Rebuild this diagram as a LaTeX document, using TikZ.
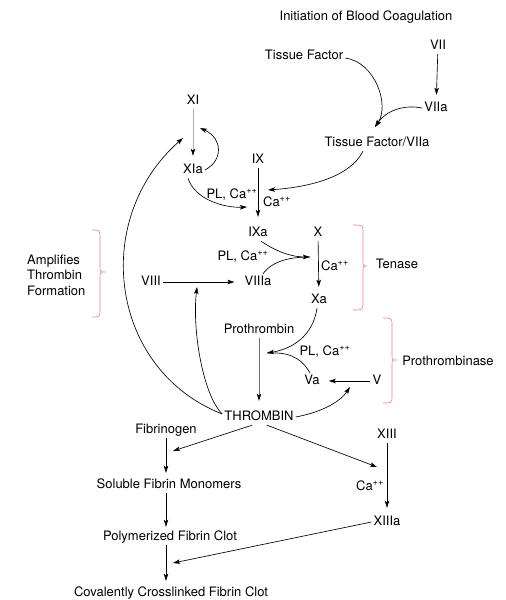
\documentclass[tikz,border=0pt]{standalone}
\usepackage{fontspec}
\setmainfont{TeX Gyre Heros}
\usetikzlibrary{arrows.meta,calc}
\definecolor{bracepink}{RGB}{240,115,150}
\definecolor{lightline}{RGB}{175,175,175}
\definecolor{midline}{RGB}{110,110,110}
\newcommand\pinkbrace[6]{\draw[bracepink,line width=0.6pt] (#1,#4) .. controls (#2,#4) .. (#2,#4+8) -- (#2,#5-6) .. controls (#2,#5) .. (#3,#5) .. controls (#2,#5) .. (#2,#5+6) -- (#2,#6-8) .. controls (#2,#6) .. (#1,#6);}
\begin{document}
\begin{tikzpicture}[x=1pt,y=-1pt,
  lbl/.style={inner sep=2pt,font=\fontsize{13}{15}\selectfont,text height=9.3pt,text depth=2.7pt},
  mlbl/.style={inner sep=0pt,font=\fontsize{13}{15.5}\selectfont,align=left},
  arr/.style={line width=0.65pt,-{Stealth[length=7pt,width=4.5pt,inset=1.5pt]}},
  con/.style={line width=0.65pt}]
\useasboundingbox (0,0) rectangle (506,600);
% nodes
\node[lbl] (title) at (366,17) {Initiation of Blood Coagulation};
\node[lbl] (VII) at (438,46) {VII};
\node[lbl] (TF) at (304,56) {Tissue Factor};
\node[lbl] (VIIa) at (436,108) {VIIa};
\node[lbl] (TFVIIa) at (377,143) {Tissue Factor/VIIa};
\node[lbl] (XI) at (193,101) {XI};
\node[lbl] (XIa) at (193,170) {XIa};
\node[lbl] (IX) at (258,160) {IX};
\node[lbl] (plca1) at (232,195) {PL, Ca\textsuperscript{++}};
\node[lbl] (ca1) at (277,203) {Ca\textsuperscript{++}};
\node[lbl] (IXa) at (258,233) {IXa};
\node[lbl] (X) at (318,233) {X};
\node[lbl] (plca2) at (243,257) {PL, Ca\textsuperscript{++}};
\node[lbl] (ca2) at (335,267) {Ca\textsuperscript{++}};
\node[lbl] (VIII) at (151,282) {VIII};
\node[lbl] (VIIIa) at (258,282) {VIIIa};
\node[lbl] (Xa) at (319,300) {Xa};
\node[mlbl,anchor=west] (amp) at (27,275) {Amplifies\\Thrombin\\Formation};
\node[lbl] (tenase) at (397,265) {Tenase};
\node[lbl] (proth) at (259,330) {Prothrombin};
\node[lbl] (plca3) at (325,352) {PL, Ca\textsuperscript{++}};
\node[lbl] (Va) at (312,381) {Va};
\node[lbl] (V) at (377,381) {V};
\node[lbl] (ptase) at (448,362) {Prothrombinase};
\node[lbl] (thr) at (259,417) {THROMBIN};
\node[lbl] (fibg) at (166,430) {Fibrinogen};
\node[lbl] (XIII) at (387,435) {XIII};
\node[lbl] (sfm) at (169,485) {Soluble Fibrin Monomers};
\node[lbl] (ca4) at (370,487) {Ca\textsuperscript{++}};
\node[lbl] (XIIIa) at (387,522) {XIIIa};
\node[lbl] (pfc) at (170,537) {Polymerized Fibrin Clot};
\node[lbl] (ccfc) at (171,593) {Covalently Crosslinked Fibrin Clot};
% braces
\pinkbrace{92}{100}{106}{230}{272}{317}
\pinkbrace{353}{363}{367}{225}{266}{310}
\pinkbrace{383}{392}{397}{318}{360}{403}
% free-end coordinates
\coordinate (tfin) at (375,127);
\coordinate (ixin) at (268,190);
\coordinate (xiain) at (247,207);
\coordinate (xiback) at (200,128);
\coordinate (xibig) at (183,138);
\coordinate (viiiup) at (197,287);
\coordinate (xin) at (310,257);
\coordinate (prin) at (267,353);
\coordinate (vaup) at (350,387);
\coordinate (fibin) at (173,451);
\coordinate (xiiiin) at (377,467);
\coordinate (ccin) at (173,563);
% connectors
\draw[arr,shorten >=5pt] (VII) -- (VIIa);
\draw[arr] ([yshift=-2pt]TF.east) .. controls (375,62) and (390,105) .. (tfin);
\draw[arr] (VIIa.west) .. controls (402,104) and (385,112) .. (tfin);
\draw[arr] ([xshift=-14pt]TFVIIa.south) .. controls (350,177) and (310,187) .. (ixin);
\draw[con,lightline,-{Stealth[length=7pt,width=4.5pt,inset=1.5pt,color=black]},shorten >=6pt] (XI) -- (XIa);
\draw[arr] (XIa.east) .. controls (224,160) and (222,138) .. (xiback);
\draw[arr] ([xshift=-5pt]XIa.south) .. controls (195,200) and (225,208) .. (xiain);
\draw[arr,shorten >=8pt] (IX) -- (IXa);
\draw[arr] ([yshift=3pt]thr.west) .. controls (110,370) and (90,220) .. (xibig);
\draw[arr] ([yshift=3pt]thr.west) .. controls (203,395) and (192,330) .. (viiiup);
\draw[arr] ([xshift=3pt]IXa.south) .. controls (277,252) and (292,257) .. (xin);
\draw[con] ([xshift=5pt]VIIIa.north) .. controls (273,260) and (292,257) .. (xin);
\draw[arr,shorten >=8pt] (VIII) -- (VIIIa);
\draw[arr,shorten >=5pt] (X) -- (Xa);
\draw[arr] ([xshift=-2pt]Xa.south) .. controls (313,336) and (292,349) .. (prin);
\draw[con] ([xshift=-2pt]Va.north) .. controls (300,356) and (287,352) .. (prin);
\draw[arr,shorten >=7pt] (V) -- (Va);
\draw[con,midline,-{Stealth[length=7pt,width=4.5pt,inset=1.5pt,color=black]},shorten >=8pt] (proth.south -| thr) -- (thr);
\draw[arr] (thr.east) .. controls (322,412) and (340,402) .. (vaup);
\draw[arr] ([xshift=-7pt]thr.south) -- (fibin);
\draw[arr] ([xshift=8pt]thr.south) -- (xiiiin);
\draw[arr,shorten >=4pt] (fibg.south) -- (fibg.south |- sfm.north);
\draw[arr,shorten >=2pt] (fibg.south |- sfm.south) -- (fibg.south |- pfc.north);
\draw[arr,shorten >=4pt] (fibg.south |- pfc.south) -- (fibg.south |- ccfc.north);
\draw[arr,shorten >=6pt] (XIII) -- (XIIIa);
\draw[arr] (XIIIa.west) -- (ccin);
\end{tikzpicture}
\end{document}
